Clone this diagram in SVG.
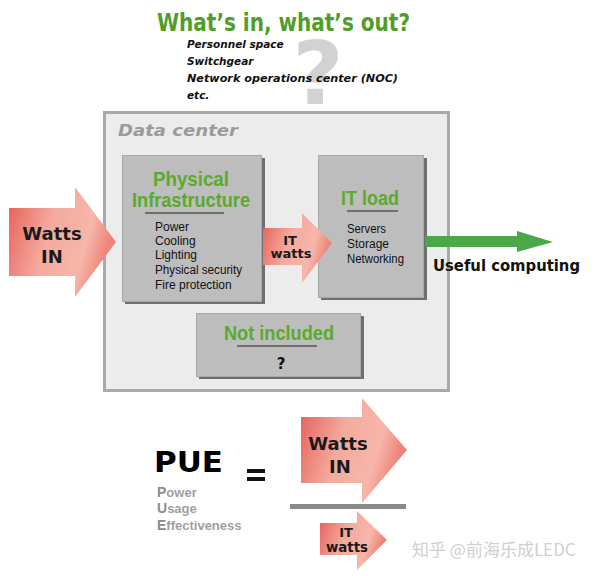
<svg xmlns="http://www.w3.org/2000/svg" width="594" height="576" viewBox="0 0 594 576">
<defs>
<linearGradient id="arrowGrad" x1="0" y1="0" x2="1" y2="0.3">
<stop offset="0" stop-color="#e45d56"/>
<stop offset="0.45" stop-color="#f5aa9e"/>
<stop offset="0.8" stop-color="#f7b6aa"/>
<stop offset="1" stop-color="#ee8478"/>
</linearGradient>
<style>
.box{fill:#bdbdbd;stroke:#a8a8a8;stroke-width:1}
.shadow{fill:#6f6f6f}
.hd{font-family:"Liberation Sans",Arial,sans-serif;font-weight:bold;fill:#5aaa2e;text-anchor:middle}
.item{font-family:"Liberation Sans",Arial,sans-serif;font-size:12px;fill:#111}
.arrowtxt{font-family:"DejaVu Sans",Verdana,sans-serif;font-weight:bold;fill:#1a1a1a;text-anchor:middle}
.rule{stroke:#6f6f6f;stroke-width:2}
.list{font-family:"DejaVu Sans",Verdana,sans-serif;font-weight:bold;font-style:italic;font-size:10.5px;fill:#111}
.pue{font-family:"Liberation Sans",Arial,sans-serif;font-size:13px;fill:#a0a0a0;font-weight:bold}
.pue tspan.b{font-weight:bold;fill:#8c8c8c;font-size:14px}
.arrow{fill:url(#arrowGrad)}
</style>
</defs>
<rect width="594" height="576" fill="#ffffff"/>

<!-- Title area -->
<g id="title">
<text x="318" y="104" font-family="DejaVu Sans,sans-serif" font-weight="bold" font-size="88" fill="#d2d2d2" text-anchor="middle">?</text>
<text x="157" y="31" font-family="DejaVu Sans,Verdana,sans-serif" font-weight="bold" font-size="25" fill="#4f9e2a" textLength="253" lengthAdjust="spacingAndGlyphs">What’s in, what’s out?</text>
<text class="list" x="187" y="48">Personnel space</text>
<text class="list" x="187" y="65">Switchgear</text>
<text class="list" x="187" y="82" textLength="211" lengthAdjust="spacingAndGlyphs">Network operations center (NOC)</text>
<text class="list" x="187" y="99">etc.</text>
</g>

<!-- Data center container -->
<g id="datacenter">
<rect x="104.5" y="112.5" width="344" height="278" fill="#ececec" stroke="#a9a9a9" stroke-width="3"/>
<text x="118" y="136" font-family="DejaVu Sans,Verdana,sans-serif" font-weight="bold" font-style="italic" font-size="16" fill="#9b9b9b" textLength="120" lengthAdjust="spacingAndGlyphs">Data center</text>
</g>

<!-- Physical Infrastructure -->
<g id="physical">
<rect class="shadow" x="125" y="158" width="140" height="146"/>
<rect class="box" x="122.5" y="155.5" width="139" height="146"/>
<text class="hd" x="191" y="186" font-size="20" textLength="76" lengthAdjust="spacingAndGlyphs">Physical</text>
<text class="hd" x="191" y="207" font-size="20" textLength="118" lengthAdjust="spacingAndGlyphs">Infrastructure</text>
<line class="rule" x1="145" y1="213" x2="224" y2="213"/>
<text class="item" x="155" y="231">Power</text>
<text class="item" x="155" y="245">Cooling</text>
<text class="item" x="155" y="259">Lighting</text>
<text class="item" x="155" y="274" textLength="87" lengthAdjust="spacingAndGlyphs">Physical security</text>
<text class="item" x="155" y="289">Fire protection</text>
</g>

<!-- IT load -->
<g id="itload">
<rect class="shadow" x="321" y="158" width="106" height="142"/>
<rect class="box" x="318.5" y="155.5" width="105" height="142"/>
<text class="hd" x="370" y="205" font-size="20" textLength="58" lengthAdjust="spacingAndGlyphs">IT load</text>
<line class="rule" x1="347" y1="211" x2="398" y2="211"/>
<text class="item" x="347" y="233" textLength="39" lengthAdjust="spacingAndGlyphs">Servers</text>
<text class="item" x="347" y="248" textLength="42" lengthAdjust="spacingAndGlyphs">Storage</text>
<text class="item" x="347" y="263" textLength="57" lengthAdjust="spacingAndGlyphs">Networking</text>
</g>

<!-- Not included -->
<g id="notincluded">
<rect class="shadow" x="199" y="316" width="165" height="63"/>
<rect class="box" x="196.5" y="313.5" width="164" height="63"/>
<text class="hd" x="279" y="340" font-size="20" textLength="110" lengthAdjust="spacingAndGlyphs">Not included</text>
<line class="rule" x1="237" y1="346" x2="317" y2="346"/>
<text x="281" y="369" font-family="DejaVu Sans,sans-serif" font-weight="bold" font-size="15" fill="#111" text-anchor="middle">?</text>
</g>

<!-- Connectors / arrows -->
<g id="connectors">
<polygon class="arrow" points="9,208 75,208 75,187 116,242 75,297 75,276 9,276"/>
<polygon class="arrow" points="263,228 302,228 302,213 332,243 302,283 302,265 263,265"/>
<polygon fill="#4aa84a" points="425,236 517,236 517,231 553,242 517,252 517,247 425,247"/>
</g>

<g id="wattsin">
<text class="arrowtxt" x="52" y="240" font-size="18">Watts</text>
<text class="arrowtxt" x="52" y="263" font-size="18">IN</text>
</g>
<g id="itwatts">
<text class="arrowtxt" x="290" y="245" font-size="13">IT</text>
<text class="arrowtxt" x="291" y="258" font-size="13" textLength="41" lengthAdjust="spacingAndGlyphs">watts</text>
</g>
<g id="useful">
<text x="433" y="271" font-family="DejaVu Sans,Verdana,sans-serif" font-weight="bold" font-size="16" fill="#111" textLength="147" lengthAdjust="spacingAndGlyphs">Useful computing</text>
</g>

<!-- PUE formula -->
<g id="pue">
<text x="154" y="472" font-family="DejaVu Sans,Verdana,sans-serif" font-weight="900" font-size="28" fill="#000" textLength="69" lengthAdjust="spacingAndGlyphs">PUE</text>
<text class="pue" x="157" y="497"><tspan class="b">P</tspan>ower</text>
<text class="pue" x="157" y="513"><tspan class="b">U</tspan>sage</text>
<text class="pue" x="157" y="530"><tspan class="b">E</tspan>ffectiveness</text>
<rect x="247" y="469" width="18" height="4" fill="#111"/>
<rect x="247" y="477" width="18" height="4" fill="#111"/>
</g>

<g id="numerator">
<polygon class="arrow" points="301,417 362,417 362,398 407,450 362,503 362,483 301,483"/>
<text class="arrowtxt" x="338" y="450" font-size="18">Watts</text>
<text class="arrowtxt" x="340" y="473" font-size="18">IN</text>
</g>
<rect id="fractionbar" x="290" y="504" width="116" height="5" fill="#8a8a8a"/>
<g id="denominator">
<polygon class="arrow" points="320,523 357,523 357,511 387,540 357,570 357,555 320,555"/>
<text class="arrowtxt" x="346" y="537" font-size="13">IT</text>
<text class="arrowtxt" x="347" y="552" font-size="14" textLength="42" lengthAdjust="spacingAndGlyphs">watts</text>
</g>

<text id="watermark" x="412" y="556" font-family="Noto Sans CJK SC,sans-serif" font-size="17" fill="#d0d0d0">知乎 @前海乐成LEDC</text>
</svg>
